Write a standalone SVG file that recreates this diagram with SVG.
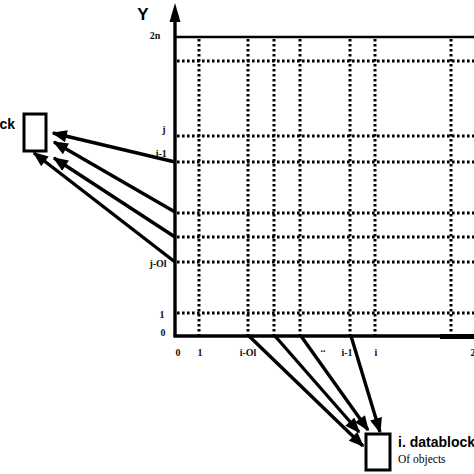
<svg xmlns="http://www.w3.org/2000/svg" width="474" height="474" viewBox="0 0 474 474">
<style>
.dot{stroke:#000;stroke-width:3;stroke-dasharray:2.6 2.4;fill:none}
.ax{stroke:#000;stroke-width:3.4;fill:none}
.arr{stroke:#000;stroke-width:3.4;fill:none;marker-end:url(#ah)}
.lbl{font-family:"Liberation Serif",serif;font-size:10px;font-weight:bold;fill:#111}
.box{fill:#fff;stroke:#000;stroke-width:3}
</style>
<defs>
<marker id="ah" viewBox="0 0 10 8" refX="9" refY="4" markerWidth="5" markerHeight="3.6" orient="auto" markerUnits="strokeWidth">
<path d="M0,0 L10,4 L0,8 Z" fill="#000"/>
</marker>
</defs>
<rect width="474" height="474" fill="#fff"/>
<g id="grid">
<g class="dot">
<line x1="177" y1="61" x2="474" y2="61"/>
<line x1="177" y1="136" x2="474" y2="136"/>
<line x1="177" y1="162" x2="474" y2="162"/>
<line x1="177" y1="213" x2="474" y2="213"/>
<line x1="177" y1="237" x2="474" y2="237"/>
<line x1="177" y1="262" x2="474" y2="262"/>
<line x1="177" y1="313" x2="474" y2="313"/>
<line x1="199" y1="39" x2="199" y2="336"/>
<line x1="248" y1="39" x2="248" y2="336"/>
<line x1="274" y1="39" x2="274" y2="336"/>
<line x1="300" y1="39" x2="300" y2="336"/>
<line x1="350" y1="39" x2="350" y2="336"/>
<line x1="375" y1="39" x2="375" y2="336"/>
<line x1="451" y1="39" x2="451" y2="336"/>
</g>
<line class="ax" x1="175" y1="37" x2="474" y2="37" style="stroke-width:2.6"/>
<line class="ax" x1="175" y1="18" x2="175" y2="337"/>
<path d="M175,3 L180.5,22 L169.5,22 Z" fill="#000"/>
<line class="ax" x1="173.5" y1="336" x2="474" y2="336"/>
<line x1="440" y1="336.5" x2="474" y2="336.5" stroke="#000" stroke-width="5"/>
</g>
<g id="axis-labels">
<text x="143" y="20" font-family="Liberation Sans,sans-serif" font-size="17" font-weight="bold" text-anchor="middle">Y</text>
<text x="155" y="39" class="lbl" text-anchor="middle">2n</text>
<text x="164" y="133" class="lbl" text-anchor="middle">j</text>
<text x="161" y="157" class="lbl" text-anchor="middle">j-1</text>
<text x="158" y="267" class="lbl" text-anchor="middle">j-Ol</text>
<text x="162" y="318" class="lbl" text-anchor="middle">1</text>
<text x="163" y="336" class="lbl" text-anchor="middle">0</text>
<text x="178" y="356" class="lbl" text-anchor="middle">0</text>
<text x="200" y="356" class="lbl" text-anchor="middle">1</text>
<text x="248" y="356" class="lbl" text-anchor="middle">i-Ol</text>
<text x="323" y="352" class="lbl" text-anchor="middle">..</text>
<text x="347" y="356" class="lbl" text-anchor="middle">i-1</text>
<text x="376" y="356" class="lbl" text-anchor="middle">i</text>
<text x="473" y="356" class="lbl" text-anchor="middle">2</text>
</g>
<g id="j-datablock">
<rect class="box" x="24" y="114" width="22" height="37"/>
<text x="15" y="129" font-family="Liberation Sans,sans-serif" font-size="14" font-weight="bold" text-anchor="end">ck</text>
</g>
<g id="i-datablock">
<rect class="box" x="366" y="434" width="24" height="36"/>
<text x="398" y="447" font-family="Liberation Sans,sans-serif" font-size="14" font-weight="bold">i. datablock</text>
<text x="398" y="463" font-family="Liberation Serif,serif" font-size="11.5">Of objects</text>
</g>
<g id="connectors">
<line class="arr" x1="175" y1="162" x2="53" y2="133"/>
<line class="arr" x1="175" y1="212" x2="54" y2="142"/>
<line class="arr" x1="175" y1="237" x2="54" y2="158"/>
<line class="arr" x1="175" y1="262" x2="34" y2="153"/>
<line class="arr" x1="249" y1="336" x2="363" y2="446"/>
<line class="arr" x1="275" y1="336" x2="359" y2="432"/>
<line class="arr" x1="301" y1="336" x2="368" y2="430"/>
<line class="arr" x1="351" y1="336" x2="380" y2="432"/>
</g>
</svg>
